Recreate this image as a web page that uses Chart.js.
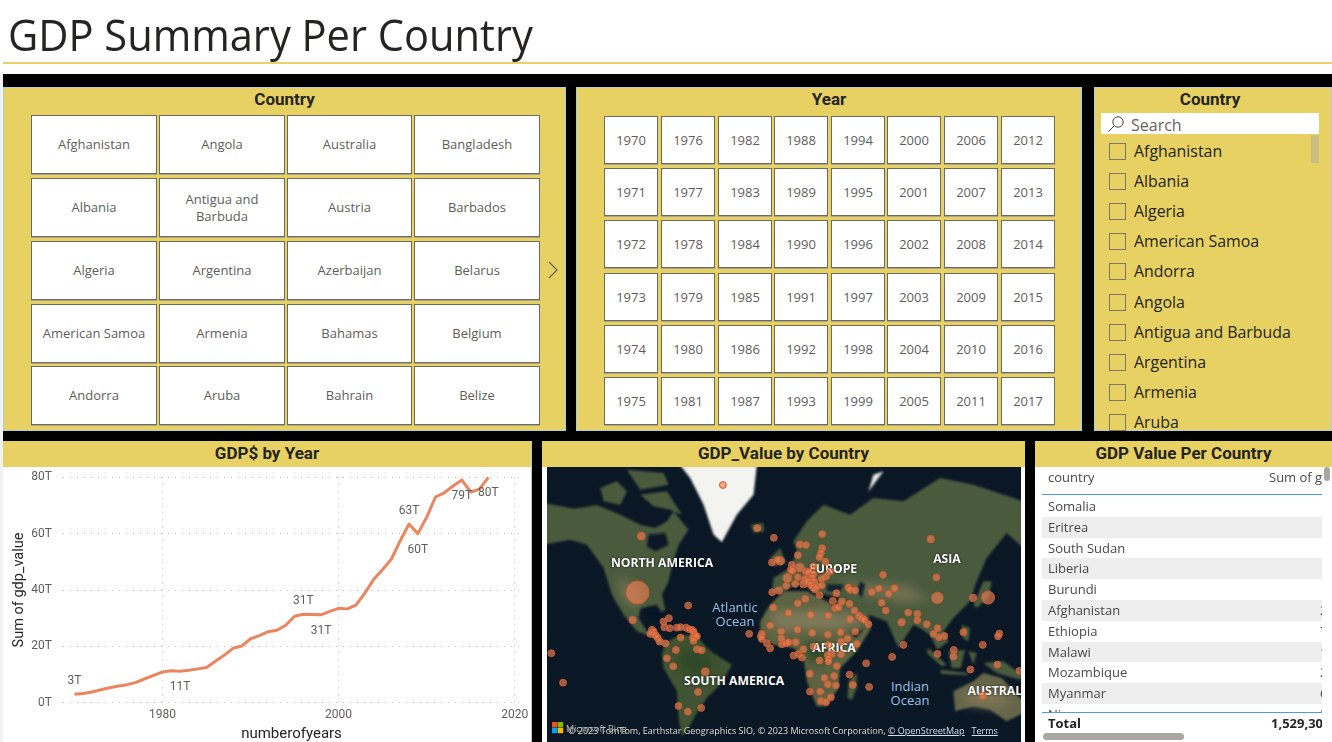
<!DOCTYPE html>
<html><head><meta charset="utf-8">
<script src="https://cdn.jsdelivr.net/npm/chart.js@4"></script>
<style>
html,body{margin:0;padding:0;background:#000;width:1332px;height:742px;overflow:hidden;font-family:"Open Sans",sans-serif}
.abs{position:absolute}
#top{left:0;top:0;width:1332px;height:74px;background:#fff}
#strip{left:0;top:74px;width:3px;height:668px;background:#f2f2f2}
#mainTitle{left:8px;top:3px;font:44px/62px "Open Sans",sans-serif;color:#252423;white-space:nowrap;transform:scaleX(.946);transform-origin:0 0}
#rule{left:3px;top:62px;width:1329px;height:2px;background:#e8d264}
.panel{background:#e7d163;box-shadow:inset 0 0 0 1px #a9cfe6}
.band{background:#e7d163}
.ptitle{text-align:center;font:700 17px/26px "Roboto",sans-serif;color:#252423;white-space:nowrap}
.btn{box-sizing:border-box;background:#fff;border:1px solid #6e6a5c;box-shadow:0 1px 0 #a9a48a;display:flex;align-items:center;justify-content:center;text-align:center;font-size:13px;line-height:17px;color:#5f5d5a}
.item{font-size:15.9px;line-height:22px;color:#252423;white-space:nowrap}
.box{box-sizing:border-box;width:17px;height:17px;border:1px solid #7d7764}
.white{background:#fff}
.mapLbl{color:#fff;font:700 12.2px/16px "Open Sans",sans-serif;white-space:nowrap;transform:translate(-50%,-50%);text-shadow:0 0 2px #000}
.ocean{color:#9cc0e6;font:13px/14px "Open Sans",sans-serif;text-align:center;white-space:nowrap;transform:translate(-50%,-50%)}
.cell{font-size:13px;line-height:21px;color:#4a4846;white-space:nowrap;overflow:hidden}
</style></head><body>
<div class="abs" id="top"></div><div class="abs" id="strip"></div>
<div class="abs" id="mainTitle">GDP Summary Per Country</div><div class="abs" id="rule"></div>

<div class="abs panel" style="left:3px;top:87px;width:563px;height:344px"></div>
<div class="abs ptitle" style="left:3px;top:86px;width:563px">Country</div>
<svg class="abs" style="left:546px;top:260px" width="14" height="20"><polyline points="3,2 11,10 3,18" fill="none" stroke="#66645c" stroke-width="1.2"/></svg>
<div class="abs panel" style="left:576px;top:87px;width:506px;height:344px"></div>
<div class="abs ptitle" style="left:576px;top:86px;width:506px">Year</div>
<div class="abs panel" style="left:1094px;top:87px;width:238px;height:344px"></div>
<div class="abs ptitle" style="left:1094px;top:86px;width:232px">Country</div>
<div class="abs white" style="left:1101px;top:113px;width:218px;height:21px"></div>
<svg class="abs" style="left:1107px;top:114px" width="20" height="20"><circle cx="11" cy="8" r="5.2" fill="none" stroke="#444" stroke-width="1"/><line x1="7.2" y1="11.8" x2="1.5" y2="17.5" stroke="#444" stroke-width="1"/></svg>
<div class="abs" style="left:1131px;top:114px;font-size:16px;line-height:22px;color:#66645f">Search</div>
<div class="abs" style="left:1311px;top:135px;width:8px;height:28px;background:#cbbf82"></div>

<div class="abs band" style="left:3px;top:441px;width:528px;height:26px"></div>
<div class="abs ptitle" style="left:3px;top:440px;width:528px">GDP$ by Year</div>
<div class="abs white" style="left:3px;top:467px;width:528px;height:275px"><canvas id="line" width="528" height="275" style="display:block;width:528px;height:275px"></canvas></div>
<div class="abs" style="left:531px;top:441px;width:1px;height:301px;background:#a9cfe6"></div>

<div class="abs white" style="left:542px;top:441px;width:483px;height:301px"></div>
<div class="abs band" style="left:542px;top:441px;width:483px;height:26px"></div>
<div class="abs ptitle" style="left:542px;top:440px;width:483px">GDP_Value by Country</div>
<div class="abs" id="map" style="left:547px;top:467px;width:474px;height:275px;overflow:hidden;background:#0a1826">
<svg class="abs" style="left:0;top:0" width="474" height="275" viewBox="20 97 1423 825" preserveAspectRatio="none">
<defs><filter id="b" x="-10%" y="-10%" width="120%" height="120%"><feGaussianBlur stdDeviation="3"/></filter><filter id="c" x="-30%" y="-30%" width="160%" height="160%"><feGaussianBlur stdDeviation="14"/></filter></defs>
<rect x="20" y="97" width="1423" height="825" fill="#0a1826"/>
<g filter="url(#b)" fill="#4a5a3e">
<path d="M10,205 L100,222 170,212 240,240 300,270 345,280 380,260 400,230 445,285 415,330 395,395 385,440 365,480 375,525 360,535 350,510 300,520 295,550 320,590 345,590 375,620 360,630 330,605 290,590 250,540 215,480 190,400 140,330 90,315 10,330Z"/>
<path d="M180,160 L230,140 260,170 240,210 190,200Z M260,105 L370,115 385,150 300,165Z M300,180 L380,170 425,240 390,225 340,215Z"/>
<path d="M375,625 L420,600 470,605 510,650 575,690 545,745 500,790 470,835 445,880 425,905 415,850 410,770 370,700 365,660Z" fill="#3f5233"/>
<path d="M690,510 L730,470 800,470 870,505 900,540 945,610 985,570 992,582 950,650 900,700 895,760 860,815 830,815 800,740 790,665 760,640 700,630 660,600 660,560Z" fill="#5c6343"/>
<path d="M695,475 L700,430 750,400 770,350 760,320 800,260 850,210 930,240 1000,190 1090,200 1200,130 1300,150 1450,200 1450,340 1400,295 1340,370 1310,440 1290,500 1240,550 1210,590 1225,620 1192,645 1170,600 1140,580 1120,570 1075,640 1040,560 985,540 990,575 930,600 880,510 900,490 850,478 820,470 780,445 730,470Z"/>
<path d="M690,370 L720,340 738,385 700,395Z M632,270 L668,265 672,290 640,295Z M925,740 L950,715 950,760 935,795 922,790Z"/>
<path d="M1165,640 L1220,690 1205,695 1160,655Z M1225,650 L1275,645 1262,700 1235,700Z M1200,705 L1285,715 1280,722 1205,718Z M1285,650 L1310,655 1300,690Z M1330,685 L1390,680 1450,725 1440,735 1370,715Z M1265,570 L1290,580 1285,620 1268,610Z M1330,440 L1355,440 1345,490 1310,520 1300,510Z"/>
<path d="M1240,770 L1300,740 1330,715 1385,730 1450,800 1450,835 1400,860 1350,825 1300,815 1245,830Z" fill="#65654a"/>
</g>
<g filter="url(#c)">
<path d="M690,530 L860,525 940,575 890,585 700,585Z" fill="#7f7a58"/>
<path d="M895,515 L980,560 940,585 905,550Z" fill="#7f7658"/>
<path d="M900,440 L1100,450 1170,495 1090,505 960,480Z" fill="#6f7050"/>
<path d="M230,430 L295,455 295,530 245,495Z" fill="#6f7050"/>
<path d="M1270,770 L1400,770 1400,820 1280,810Z" fill="#7d7555"/>
<path d="M420,640 L520,660 500,720 420,710Z" fill="#2e4726"/>
<path d="M790,620 L880,630 860,690 800,680Z" fill="#334d2a"/>
</g>
<g filter="url(#b)">
<path d="M420,92 L650,92 640,180 590,240 545,322 520,300 490,210 450,130Z" fill="#f3f3ef"/>
<path d="M325,300 L375,295 385,330 345,350 320,335Z" fill="#0a1826"/>
<path d="M340,560 L300,530 360,520 370,555Z" fill="#0a1826" opacity=".6"/>
<path d="M960,440 L975,450 965,490 950,470Z M860,450 L910,450 900,470 860,470Z" fill="#0f2230"/>
<path d="M1000,120 L1030,110 985,170Z" fill="#e8e8e4"/>
</g>
</svg>
<div class="abs mapLbl" style="left:115px;top:96px">NORTH AMERICA</div>
<div class="abs mapLbl" style="left:286px;top:102px">EUROPE</div>
<div class="abs mapLbl" style="left:400px;top:92px">ASIA</div>
<div class="abs mapLbl" style="left:287px;top:181px">AFRICA</div>
<div class="abs mapLbl" style="left:187px;top:214px">SOUTH AMERICA</div>
<div class="abs mapLbl" style="left:454px;top:224px;transform:translate(-50%,-50%)">AUSTRALIA</div>
<div class="abs ocean" style="left:188px;top:147px">Atlantic<br>Ocean</div>
<div class="abs ocean" style="left:363px;top:226px">Indian<br>Ocean</div>
<canvas id="bubbles" class="abs" width="474" height="275" style="left:0;top:0;width:474px;height:275px"></canvas>
<svg class="abs" style="left:5px;top:255px" width="12" height="12"><rect width="5.4" height="5.4" fill="#f25022"/><rect x="5.8" width="5.4" height="5.4" fill="#7fba00"/><rect y="5.8" width="5.4" height="5.4" fill="#00a4ef"/><rect x="5.8" y="5.8" width="5.4" height="5.4" fill="#ffb900"/></svg>
<div class="abs" style="left:19px;top:255px;font-size:9px;line-height:13px;color:#bbb;white-space:nowrap">Microsoft Bing</div>
<div class="abs" style="left:21px;top:257px;font-size:9px;line-height:13px;color:#e0e0e0;white-space:nowrap;text-shadow:0 0 1px #000">© 2023 TomTom, Earthstar Geographics SIO, © 2023 Microsoft Corporation, <u style="color:#cfe0f5">© OpenStreetMap</u> &nbsp;&nbsp;<u style="color:#cfe0f5">Terms</u></div>
</div>

<div class="abs white" style="left:1035px;top:441px;width:297px;height:301px"></div>
<div class="abs band" style="left:1035px;top:441px;width:297px;height:26px"></div>
<div class="abs ptitle" style="left:1035px;top:440px;width:297px">GDP Value Per Country</div>
<div class="abs" id="table" style="left:1042px;top:467px;width:280px;height:275px;overflow:hidden"></div>
<div class="abs" style="left:1324px;top:467px;width:6px;height:14px;border-radius:3px;background:#aaa7a3"></div>
<div class="abs" style="left:1043px;top:733px;width:141px;height:7px;border-radius:4px;background:#aaa7a3"></div>

<script>
const titleCountries=[["Afghanistan","Angola","Australia","Bangladesh"],["Albania","Antigua and Barbuda","Austria","Barbados"],["Algeria","Argentina","Azerbaijan","Belarus"],["American Samoa","Armenia","Bahamas","Belgium"],["Andorra","Aruba","Bahrain","Belize"]];
const yearRows=[[1970,1976,1982,1988,1994,2000,2006,2012],[1971,1977,1983,1989,1995,2001,2007,2013],[1972,1978,1984,1990,1996,2002,2008,2014],[1973,1979,1985,1991,1997,2003,2009,2015],[1974,1980,1986,1992,1998,2004,2010,2016],[1975,1981,1987,1993,1999,2005,2011,2017]];
const listCountries=["Afghanistan","Albania","Algeria","American Samoa","Andorra","Angola","Antigua and Barbuda","Argentina","Armenia","Aruba"];
const tableCountries=["Somalia","Eritrea","South Sudan","Liberia","Burundi","Afghanistan","Ethiopia","Malawi","Mozambique","Myanmar","Niger"];
const tableValues=["","","","","","2","7","1","2","6","3"];

const years=[1970,1971,1972,1973,1974,1975,1976,1977,1978,1979,1980,1981,1982,1983,1984,1985,1986,1987,1988,1989,1990,1991,1992,1993,1994,1995,1996,1997,1998,1999,2000,2001,2002,2003,2004,2005,2006,2007,2008,2009,2010,2011,2012,2013,2014,2015,2016,2017];
const gdpTrillions=[3,3.3,3.8,4.6,5.3,5.9,6.4,7.2,8.5,9.7,10.9,11.3,11.2,11.5,12,12.5,14.7,16.8,19.3,20.1,22.7,23.8,25.2,25.7,27.5,30.7,31.4,31.3,31.2,32.4,33.5,33.3,34.7,39,43.8,47.3,51,57.5,63.4,60,65.8,73,74.5,76.9,79,74.8,75.8,80];
const xTicks=[1980,2000,2020];
const labelYears=[1970,1982,1996,1998,2008,2009,2014,2017];
const labelText=["3T","11T","31T","31T","63T","60T","79T","80T"];
const labelBelow=[false,true,false,true,false,true,true,true];

const bubbleLon=[-98.1,103.9,138.0,11.2,2.9,-2.0,-52.5,99.4,-101.4,-95.6,79.7,13.7,-2.9,127.9,134.4,-40.6,-17.5,-6.3,-7.6,-3.8,11.2,15.3,26.3,26.3,25.4,24.5,28.5,9.9,5.8,5.2,6.3,9.9,15.3,17.1,20.4,20.4,19.3,14.8,16.6,28.9,31.6,26.0,20.9,18.6,20.0,21.5,23.1,26.0,8.1,-7.4,2.0,35.9,24.5,33.4,35.0,39.5,37.3,44.7,44.0,45.1,48.5,48.0,45.1,51.2,53.0,54.5,57.4,48.5,67.3,103.2,59.7,64.4,75.0,71.1,66.4,69.1,84.2,90.4,90.4,96.7,101.2,103.9,108.6,105.0,121.4,145.6,144.7,134.4,81.0,73.4,55.9,103.9,114.9,114.7,126.1,144.3,159.1,57.9,46.9,44.7,-156.2,-148.3,-77.0,-80.6,-80.1,-64.0,-88.4,-87.3,-89.5,-86.2,-84.6,-83.3,-79.2,-76.5,-71.6,-69.3,-65.5,-63.3,-61.5,-60.4,-59.9,-59.2,-60.8,-58.1,-60.4,-69.1,-72.3,-58.1,-55.0,-78.3,-74.1,-57.4,-70.5,-64.2,-55.2,-22.9,-6.7,9.9,14.8,18.6,30.3,3.6,-8.8,9.6,19.5,30.1,38.6,43.3,39.0,49.6,-14.4,-15.0,-14.4,-11.0,-8.8,-1.3,-0.9,1.8,3.6,-1.3,8.5,13.7,20.4,30.5,32.8,39.0,30.1,30.5,36.1,7.0,10.3,12.6,24.5,30.5,18.0,27.8,34.3,35.5,30.1,24.9,18.0,25.4,28.9,32.1];
const bubbleMercLat=[42.4,38.8,39.0,59.2,52.1,63.7,-10.8,78.3,24.0,80.3,22.4,48.2,43.8,38.8,-27.2,114.7,85.7,79.2,62.6,64.4,74.7,74.3,81.7,72.3,68.9,66.2,63.1,67.5,61.0,57.7,57.0,52.7,56.5,56.1,59.9,54.8,52.5,51.6,49.8,53.2,56.5,51.6,49.8,47.6,45.8,44.4,46.5,47.1,48.2,42.6,46.9,42.0,40.6,36.8,31.9,36.4,32.3,34.8,45.8,44.2,43.8,30.3,24.5,26.7,25.1,24.0,21.1,16.2,54.3,52.5,42.6,45.1,45.3,41.5,35.5,30.3,28.9,28.1,23.8,21.1,14.6,18.4,13.2,12.3,15.7,14.8,13.0,7.2,7.2,-0.9,-5.2,1.1,3.8,-0.7,-9.4,-6.1,-10.3,-21.1,-19.7,-12.8,1.6,-18.2,25.1,22.9,19.1,33.7,17.3,16.2,14.6,13.9,12.1,9.4,8.1,18.4,18.8,19.1,18.8,17.7,17.3,16.2,14.6,13.2,12.1,13.0,9.9,12.1,3.8,4.3,3.6,-1.8,-7.2,-24.5,-33.9,-37.7,-35.2,14.6,32.3,35.2,38.1,27.4,26.9,28.7,20.2,17.5,15.3,14.1,15.7,11.4,9.4,7.9,14.6,12.8,11.2,8.3,4.9,16.2,7.6,8.3,9.0,11.7,9.0,4.3,6.1,7.2,1.1,0.9,0.4,-2.2,-7.0,0,1.1,-1.3,-3.4,-4.0,-12.3,-15.0,-13.7,-20.0,-19.3,-24.2,-24.2,-30.5,-31.2,-28.1];
const bubbleLargeGdp=[400,36,60,8,8,5,2,1,1,2,1,2,1,1,1];
const bubbleSmallGdp=0.1;

// page furniture
const h=(cls,css,txt)=>{const d=document.createElement('div');d.className=cls;d.style.cssText=css;if(txt!==undefined)d.textContent=txt;document.body.appendChild(d);return d};
const cx=[31,159,287,414],cw=[126,126,125,126],ry=[115,178,241,304,366];
titleCountries.forEach((r,i)=>r.forEach((t,j)=>h('abs btn',`left:${cx[j]}px;top:${ry[i]}px;width:${cw[j]}px;height:59px`,t)));
yearRows.forEach((r,i)=>r.forEach((t,j)=>h('abs btn',`left:${[604,661,718,774,831,887,944,1001][j]}px;top:${[116,168,220,273,325,377][i]}px;width:54px;height:48px`,t)));
listCountries.forEach((t,i)=>{const y=[151,181,211,241,271,302,332,362,392,422][i];
 if(y<420){h('abs box',`left:1109px;top:${y-8}px`);h('abs item',`left:1134px;top:${y-11}px`,t);}
 else{h('abs',`left:1094px;top:${y-11}px;width:238px;height:${431-y+11}px;overflow:hidden`).innerHTML=`<div class="abs box" style="left:15px;top:3px"></div><div class="abs item" style="left:40px;top:0">${t}</div>`;}
});
const tb=document.getElementById('table');
const tc=(css,t,w)=>{const d=document.createElement('div');d.className='abs cell';d.style.cssText=css;d.textContent=t;tb.appendChild(d);return d};
tc('left:6px;top:0;height:21px;line-height:20px','country');
tc('left:227px;top:0;height:21px;line-height:20px;width:53px','Sum of gdp_value');
const hl=document.createElement('div');hl.className='abs';hl.style.cssText='left:0;top:27px;width:280px;height:1px;background:#4d9be6';tb.appendChild(hl);
const bodyWrap=document.createElement('div');bodyWrap.className='abs';bodyWrap.style.cssText='left:0;top:28px;width:280px;height:217px;overflow:hidden';tb.appendChild(bodyWrap);
tableCountries.forEach((t,i)=>{const r=document.createElement('div');r.className='abs';r.style.cssText=`left:0;top:${i*20.8+1}px;width:280px;height:21px;background:${i%2?'#eeeeee':'#fff'};border-bottom:1px solid #eaeaea`;
 const a=document.createElement('div');a.className='abs cell';a.style.cssText='left:6px;top:0';a.textContent=t;r.appendChild(a);
 const b=document.createElement('div');b.className='abs cell';b.style.cssText='left:278px;top:0;width:2px';b.textContent=tableValues[i];r.appendChild(b);bodyWrap.appendChild(r)});
const hl2=document.createElement('div');hl2.className='abs';hl2.style.cssText='left:0;top:245px;width:280px;height:1px;background:#4d9be6';tb.appendChild(hl2);
tc('left:6px;top:246px;font-weight:700;color:#252423','Total');
tc('left:229px;top:246px;width:51px;font-weight:700;color:#252423','1,529,300');

// line chart
const labelPlugin={id:'pointLabels',afterDatasetsDraw(c){const g=c.ctx,x=c.scales.x,y=c.scales.y;g.save();g.font='12px Roboto';g.fillStyle='#605e5c';g.textAlign='center';g.textBaseline='middle';
 labelYears.forEach((yr,i)=>{const v=gdpTrillions[years.indexOf(yr)];g.fillText(labelText[i],x.getPixelForValue(yr),y.getPixelForValue(v)+(labelBelow[i]?16:-13))});g.restore()}};
new Chart(document.getElementById('line'),{type:'line',plugins:[labelPlugin],
 data:{datasets:[{data:years.map((yr,i)=>({x:yr,y:gdpTrillions[i]})),borderColor:'#ea8560',borderWidth:3,pointRadius:0,tension:0,borderJoinStyle:'round',clip:false}]},
 options:{responsive:false,animation:false,devicePixelRatio:1,layout:{autoPadding:false,padding:{top:10.3,right:11}},plugins:{legend:{display:false},tooltip:{enabled:false}},
 scales:{
  x:{type:'linear',min:1968.7,max:2020.6,afterBuildTicks:a=>{a.ticks=xTicks.map(v=>({value:v}))},afterFit:s=>{s.height=39.3;s.paddingLeft=0;s.paddingRight=0},
   border:{display:false,dash:[1,6]},grid:{color:'#bdbdbd',lineWidth:1,drawTicks:false},
   ticks:{padding:5,maxRotation:0,autoSkip:false,font:{family:'Roboto',size:12},color:'#605e5c',callback:v=>String(v)},
   title:{display:true,text:'numberofyears',font:{family:'Roboto',size:15},color:'#252423',padding:{top:0,bottom:-1}}},
  y:{min:0,max:80,afterFit:s=>{s.width=60;s.paddingTop=0;s.paddingBottom=0},border:{display:false,dash:[1,6]},grid:{color:'#bdbdbd',lineWidth:1,drawTicks:false},
   ticks:{stepSize:20,padding:11,font:{family:'Roboto',size:12},color:'#605e5c',callback:v=>v+'T'},
   title:{display:true,text:'Sum of gdp_value',font:{family:'Roboto',size:14.5},color:'#252423',padding:{top:8,bottom:0}}}
 }},
});

// bubble map
const mapPts=bubbleLon.map((lon,i)=>{const g=i<bubbleLargeGdp.length?bubbleLargeGdp[i]:bubbleSmallGdp;return{x:lon,y:bubbleMercLat[i],r:3.3+0.41*Math.sqrt(g)}});
new Chart(document.getElementById('bubbles'),{type:'bubble',
 data:{datasets:[{data:mapPts,backgroundColor:'rgba(236,128,84,.65)',borderColor:'#cf5a30',borderWidth:1}]},
 options:{responsive:false,animation:false,devicePixelRatio:1,layout:{autoPadding:false,padding:0},plugins:{legend:{display:false},tooltip:{enabled:false}},
 scales:{x:{type:'linear',display:false,min:-159.1,max:160.2},y:{type:'linear',display:false,min:-58.1,max:126.8}}}
});
</script>
</body></html>
